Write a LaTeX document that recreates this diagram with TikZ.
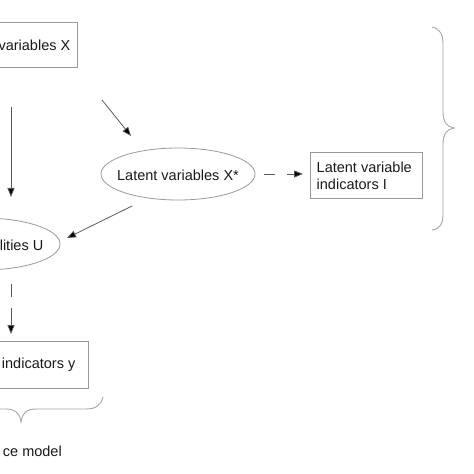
\documentclass[tikz,border=0pt]{standalone}
\usepackage{fontspec}
\setmainfont{Liberation Sans}
\usetikzlibrary{arrows.meta,shapes.geometric}
\begin{document}
\begin{tikzpicture}[x=1bp,y=-1bp,
  txt/.style={font=\fontsize{14.5bp}{17.5bp}\selectfont, text=black!90, inner sep=0pt},
  boxline/.style={draw=black!40, line width=0.8bp},
  conn/.style={draw=black!65, line width=0.8bp, -{Triangle[length=9bp,width=7bp,fill=black]}},
  dconn/.style={conn, dash pattern=on 11bp off 12bp on 40bp},
  bracel/.style={draw=black!35, line width=0.9bp}]
\useasboundingbox (0,0) rectangle (474,474);
\clip (0,0) rectangle (474,474);
% boxes and ellipses
\node[boxline, rectangle, minimum width=112bp, minimum height=45bp] (bx) at (21,44.5) {};
\node[txt, anchor=east] (tx) at (70.5,45) {variables X};
\node[boxline, ellipse, minimum width=154bp, minimum height=52bp] (xs) at (178,174) {};
\node[txt] (txs) at (178,175) {Latent variables X*};
\node[boxline, rectangle, minimum width=112bp, minimum height=46bp] (bi) at (366,175) {};
\node[txt, align=left, anchor=west] (ti) at (316.5,176) {Latent variable\\indicators I};
\node[boxline, ellipse, minimum width=154bp, minimum height=52bp] (u) at (-17,244) {};
\node[txt, anchor=east] (tu) at (43.5,245) {lities U};
\node[boxline, rectangle, minimum width=128bp, minimum height=47bp] (by) at (24,364.5) {};
\node[txt, anchor=east] (ty) at (75.5,365) {indicators y};
\node[txt, anchor=east] (tm) at (62,451) {ce model};
% connector end points
\coordinate (a1s) at (11,107); \coordinate (a1e) at (11,197);
\coordinate (a2s) at (102,100); \coordinate (a2e) at (131,136);
\coordinate (a3s) at (264,174); \coordinate (a3e) at (303,174);
\coordinate (a4s) at (132,206); \coordinate (a4e) at (67,238);
\coordinate (a5s) at (11,284); \coordinate (a5e) at (11,334);
\draw[conn] (a1s) -- (a1e);
\draw[conn] (a2s) -- (a2e);
\draw[dconn] (a3s) -- (a3e);
\draw[conn] (a4s) -- (a4e);
\draw[conn, dash pattern=on 13bp off 11bp on 40bp] (a5s) -- (a5e);
% right brace
\draw[bracel] (432,27) .. controls (440,29) and (443,34) .. (443,44)
  -- (443,112) .. controls (443,122) and (447,127) .. (454,128)
  .. controls (447,129) and (443,134) .. (443,144)
  -- (443,214) .. controls (443,224) and (440,229) .. (432,230);
% bottom brace
\draw[bracel] (103,397) .. controls (101,405) and (96,409) .. (86,409)
  -- (36,409) .. controls (26,409) and (22,414) .. (21,422)
  .. controls (20,414) and (16,409) .. (6,409) -- (-70,409);
\end{tikzpicture}
\end{document}
